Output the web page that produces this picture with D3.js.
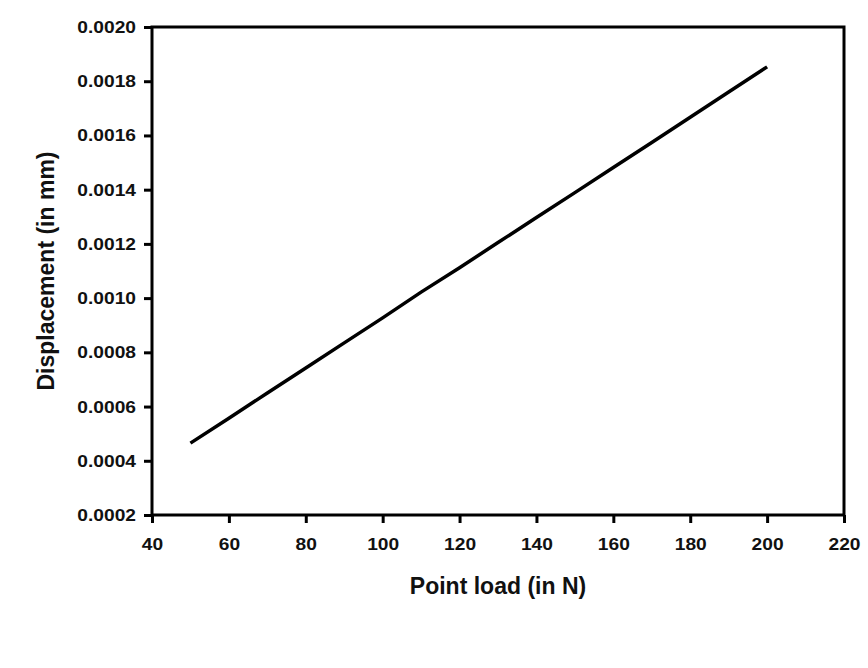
<!DOCTYPE html>
<html lang="en">
<head>
<meta charset="UTF-8">
<title>Displacement vs point load</title>
<script src="https://d3js.org/d3.v7.min.js"></script>
<style>
  body { margin: 0; background: #fff; }
  text { font-family: "Liberation Sans", Arial, sans-serif; font-weight: bold; fill: #111; }
</style>
</head>
<body>
<script>
// values
const loads = [50, 60, 70, 80, 90, 100, 110, 120, 130, 140, 150, 160, 170, 180, 190, 200];
const displacement = [0.000465, 0.000557, 0.000650, 0.000742, 0.000835, 0.000927, 0.001022, 0.001112, 0.001205, 0.001297, 0.001389, 0.001482, 0.001574, 0.001667, 0.001760, 0.001853];
const xTicks = [40, 60, 80, 100, 120, 140, 160, 180, 200, 220];
const yTicks = [0.0002, 0.0004, 0.0006, 0.0008, 0.0010, 0.0012, 0.0014, 0.0016, 0.0018, 0.0020];

const W = 868, H = 668;
const margin = { top: 27, right: 24, bottom: 153, left: 152 };
const w = W - margin.left - margin.right;
const h = H - margin.top - margin.bottom;
const stretch = 1.13; // labels in the source look a bit wide

const svg = d3.select('body').append('svg')
  .attr('width', W)
  .attr('height', H);

const g = svg.append('g')
  .attr('transform', `translate(${margin.left},${margin.top})`);

const x = d3.scaleLinear().domain([40, 220]).range([0, w]);
const y = d3.scaleLinear().domain([0.0002, 0.0020]).range([h, 0]);

// frame
g.append('rect')
  .attr('width', w).attr('height', h)
  .attr('fill', 'none').attr('stroke', '#000').attr('stroke-width', 3);

const xAxis = g.append('g')
  .attr('transform', `translate(0,${h})`)
  .call(d3.axisBottom(x).tickValues(xTicks).tickSize(8).tickPadding(15).tickFormat(d3.format('d')));

const yAxis = g.append('g')
  .call(d3.axisLeft(y).tickValues(yTicks).tickSize(8).tickPadding(8).tickFormat(d3.format('.4f')));

[xAxis, yAxis].forEach(a => {
  a.select('.domain').remove();
  a.selectAll('line').attr('stroke', '#000').attr('stroke-width', 3);
  a.selectAll('text').style('font-size', '17px').attr('fill', '#111');
});

// widen tick labels a little
yAxis.selectAll('text')
  .attr('x', 0)
  .attr('transform', `translate(-16,0) scale(${stretch},1)`);
xAxis.selectAll('text')
  .attr('transform', `scale(${stretch},1)`);

// the curve
const line = d3.line()
  .x((d, i) => x(loads[i]))
  .y(d => y(d));

g.append('path')
  .datum(displacement)
  .attr('fill', 'none')
  .attr('stroke', '#000')
  .attr('stroke-width', 3.5)
  .attr('stroke-linejoin', 'round')
  .attr('d', line);

// axis titles
svg.append('text')
  .attr('x', margin.left + w / 2)
  .attr('y', 594)
  .attr('text-anchor', 'middle')
  .style('font-size', '23px')
  .text('Point load (in N)');

svg.append('text')
  .attr('transform', `translate(54,${margin.top + h / 2}) rotate(-90)`)
  .attr('text-anchor', 'middle')
  .style('font-size', '23px')
  .text('Displacement (in mm)');
</script>
</body>
</html>
